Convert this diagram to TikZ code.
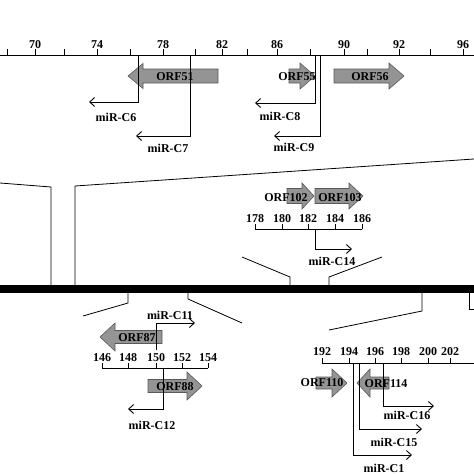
\documentclass[tikz,border=0pt]{standalone}
\usepackage{fontspec}
\setmainfont{Liberation Serif}
\usetikzlibrary{arrows.meta}
\tikzset{
  lbl/.style={font=\bfseries\fontsize{12}{14}\selectfont, inner sep=0pt},
  mir/.style={line width=0.9pt, -{Straight Barb[length=5pt,width=9pt,line width=0.9pt]}},
  ax/.style={line width=0.9pt},
  zl/.style={line width=0.8pt},
  orf/.style={fill=black!42, draw=black!65, line width=0.6pt},
}
% gene arrow: tail x, head-base x, tip x, centre y, half body, half head
\newcommand\orfR[6]{\path[orf] (#1,#4-#5) -- (#2,#4-#5) -- (#2,#4-#6) -- (#3,#4) -- (#2,#4+#6) -- (#2,#4+#5) -- (#1,#4+#5) -- cycle;}
\begin{document}
\begin{tikzpicture}[x=1pt,y=-1pt]
\useasboundingbox (0,0) rectangle (474,474);
% ---------- top axis ----------
\draw[ax] (0,55) -- (474,55);
\foreach \t in {7,35,64,97,130,163,195,222,247,277,310,344,367,399,430,463}
  \draw[ax] (\t,55) -- (\t,49);
\foreach \t/\l in {35/70,97/74,163/78,222/82,277/86,344/90,399/92,463/96}
  \node[lbl] (t\l) at (\t,45) {\l};
% gene arrows top
\orfR{218}{143}{128}{76}{7}{12.5}
\orfR{289}{300}{315}{76}{7}{13}
\orfR{334}{389}{404}{76}{7}{13}
\node[lbl] (orf51) at (175,77) {ORF51};
\node[lbl] (orf55) at (297,77) {ORF55};
\node[lbl] (orf56) at (370,77) {ORF56};
% miRNAs top
\draw[mir] (138,55) coordinate (c6s) |- (89,102) coordinate (c6e);
\draw[mir] (190,55) coordinate (c7s) |- (136,136) coordinate (c7e);
\draw[mir] (315,55) coordinate (c8s) |- (255,103) coordinate (c8e);
\draw[mir] (320,55) coordinate (c9s) |- (274,136) coordinate (c9e);
\node[lbl] (m6) at (116,117) {miR-C6};
\node[lbl] (m7) at (168,148) {miR-C7};
\node[lbl] (m8) at (280,116) {miR-C8};
\node[lbl] (m9) at (294,147) {miR-C9};
% ---------- genome bar ----------
\fill (0,285) rectangle (474,293);
\coordinate (b1) at (51,285);
\coordinate (b2) at (75,285);
\draw[zl] (0,183) -- (51,187) -- (b1);
\draw[zl] (b2) -- (75,186) -- (474,159);
\coordinate (b3) at (290,285);
\coordinate (b4) at (329,285);
\draw[zl] (242,257) -- (290,277) -- (b3);
\draw[zl] (b4) -- (329,277) -- (382,257);
\coordinate (b5) at (128,293);
\coordinate (b6) at (188,293);
\draw[zl] (b5) -- (128,303) -- (83,316);
\draw[zl] (b6) -- (188,299) -- (242,323);
\coordinate (b7) at (422,293);
\coordinate (b8) at (469,293);
\draw[zl] (b7) -- (422,311) -- (329,330);
\draw[zl] (b8) -- (469,309) -- (474,309);
% ---------- middle inset 178-186 ----------
\orfR{287}{302}{314}{196}{7.5}{13}
\orfR{315}{349}{363}{196}{7.5}{13}
\node[lbl] (orf102) at (286,198) {ORF102};
\node[lbl] (orf103) at (340,198) {ORF103};
\draw[ax] (255,229) -- (362,229);
\foreach \t/\l in {255/178,282/180,308/182,335/184,362/186}{
  \draw[ax] (\t,229) -- (\t,224);
  \node[lbl] (u\l) at (\t,219) {\l};}
\draw[mir] (315,229) coordinate (c14s) |- (352,249) coordinate (c14e);
\node[lbl] (m14) at (332,261) {miR-C14};
% ---------- lower left inset 146-154 ----------
\orfR{162}{115}{100}{337}{6.5}{14}
\node[lbl] (orf87) at (137,338) {ORF87};
\draw[mir] (156,350) coordinate (c11s) |- (195,323) coordinate (c11e);
\node[lbl] (m11) at (170,315) {miR-C11};
\draw[ax] (102,368) -- (208,368);
\foreach \t/\l in {102/146,128/148,156/150,182/152,208/154}{
  \draw[ax] (\t,368) -- (\t,363);
  \node[lbl] (v\l) at (\t,358) {\l};}
\orfR{148}{187}{202}{386}{6.5}{14}
\node[lbl] (orf88) at (175,387) {ORF88};
\draw[mir] (163,368) coordinate (c12s) |- (128,409) coordinate (c12e);
\node[lbl] (m12) at (152,425) {miR-C12};
% ---------- lower right inset 192-202 ----------
\draw[ax] (322,363) -- (474,363);
\foreach \t/\l in {322/192,349/194,375/196,401/198,428/200,450/202}{
  \draw[ax] (\t,363) -- (\t,358);
  \node[lbl] (w\l) at (\t,352) {\l};}
\orfR{316}{332}{347}{383}{6}{14}
\orfR{389}{370}{357}{383}{6}{14}
\node[lbl] (orf110) at (322,383) {ORF110};
\node[lbl] (orf114) at (386,384) {ORF114};
\draw[mir] (383,363) coordinate (c16s) |- (434,406) coordinate (c16e);
\draw[mir] (359,363) coordinate (c15s) |- (422,429) coordinate (c15e);
\draw[mir] (353,363) coordinate (c1s) |- (412,455) coordinate (c1e);
\node[lbl] (m16) at (407,415) {miR-C16};
\node[lbl] (m15) at (394,442) {miR-C15};
\node[lbl] (m1) at (384,468) {miR-C1};
\end{tikzpicture}
\end{document}
